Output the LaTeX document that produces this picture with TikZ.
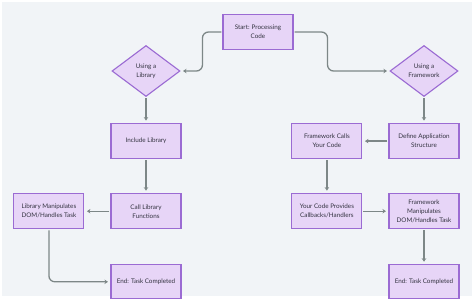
\documentclass[tikz,border=0pt]{standalone}
\usepackage{fontspec}
\setmainfont{Lato}
\usetikzlibrary{arrows.meta, positioning, shapes.geometric}
\definecolor{nodefill}{HTML}{E7D5F7}
\definecolor{nodeline}{HTML}{9B6BD3}
\definecolor{arrgray}{HTML}{7D8787}
\definecolor{bggray}{HTML}{F1F4F7}
\definecolor{txtgray}{HTML}{333340}

\begin{document}
\begin{tikzpicture}[
    x=1pt, y=1pt,
    node distance=26pt and 26pt,
    box/.style={draw=nodeline, fill=nodefill, line width=1.1pt,
                minimum height=35pt, minimum width=70pt, inner sep=1pt,
                align=center, text=txtgray,
                font=\fontsize{6.3}{9}\selectfont},
    decision/.style={diamond, draw=nodeline, fill=nodefill, line width=1.1pt,
                     minimum width=68pt, minimum height=51pt, aspect=1.33,
                     inner sep=0pt, align=center, text=txtgray,
                     font=\fontsize{6.3}{9}\selectfont},
    arr/.style={-{Stealth[length=3.5pt, width=4.5pt]}, line width=1.3pt,
                draw=arrgray, shorten >=2.5pt, shorten <=1pt},
  ]
  % Canvas
  \fill[white] (0,0) rectangle (474,-298);
  \fill[bggray] (2,-2) rectangle (472,-296);
  \useasboundingbox (0,0) rectangle (474,-298);

  % Row 1: Start and the two choices
  \node[box] (start) at (258,-32) {Start: Processing\\Code};
  \node[decision] (usinglib) at (146,-71) {Using a\\Library};
  \node[decision] (usingfw) at (424,-71) {Using a\\Framework};

  % Library branch
  \node[box, below=26pt of usinglib] (include) {Include Library};
  \node[box, below=34pt of include] (calllib) {Call Library\\Functions};
  \node[box, left=26pt of calllib] (libdom) {Library Manipulates\\DOM/Handles Task};
  \node[box, below=35pt of calllib, minimum height=34pt] (endlib) {End: Task Completed};

  % Framework branch
  \node[box, below=26pt of usingfw] (define) {Define Application\\Structure};
  \node[box, left=26pt of define] (fwcalls) {Framework Calls\\Your Code};
  \node[box, below=34pt of fwcalls] (yourcode) {Your Code Provides\\Callbacks/Handlers};
  \node[box, right=26pt of yourcode] (fwdom) {Framework\\Manipulates\\DOM/Handles Task};
  \node[box, below=35pt of fwdom, minimum height=34pt] (endfw) {End: Task Completed};

  % Arrows
  \draw[arr, rounded corners=6pt] (start.west) -- ++(-20,0) |- (usinglib.east);
  \draw[arr, rounded corners=6pt] (start.east) -- ++(34,0) |- (usingfw.west);
  \draw[arr] (usinglib) -- (include);
  \draw[arr] (include) -- (calllib);
  \draw[arr] (calllib) -- (libdom);
  \draw[arr, rounded corners=6pt] (libdom.south) |- (endlib.west);
  \draw[arr] (usingfw) -- (define);
  \draw[arr] (define) -- (fwcalls);
  \draw[arr] (fwcalls) -- (yourcode);
  \draw[arr] (yourcode) -- (fwdom);
  \draw[arr] (fwdom) -- (endfw);
\end{tikzpicture}
\end{document}
